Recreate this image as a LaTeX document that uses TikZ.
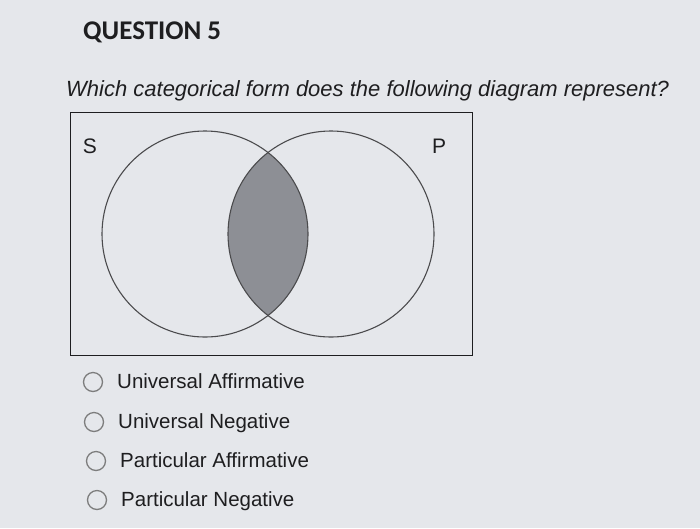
\documentclass[tikz,border=0pt]{standalone}
\usepackage{fontspec}
\setmainfont{Liberation Sans}
\newfontfamily\headfont{Carlito}
\usepackage{tikz}
\definecolor{ScreenBack}{RGB}{229,231,235}
\definecolor{LensGray}{RGB}{141,143,149}
\definecolor{RadioGray}{RGB}{125,125,125}
\definecolor{InkBlack}{RGB}{30,30,32}
\usetikzlibrary{
	positioning,
	calc
}

\begin{document}
\begin{tikzpicture}[
		x=1pt, y=-1pt,
		framed/.style={draw=InkBlack, line width=1.2pt, inner sep=0pt},
		setcircle/.style={circle, draw=InkBlack!80, line width=1.1pt, minimum size=206pt, inner sep=0pt},
		radio/.style={circle, draw=RadioGray, line width=1.3pt, minimum size=19pt, inner sep=0pt},
		answer/.style={anchor=base west, inner sep=0pt, text=InkBlack, font=\fontsize{20.5}{24}\selectfont}
	]
		\fill[ScreenBack] (0,0) rectangle (700,528);
		\useasboundingbox (0,0) rectangle (700,528);

		\node[anchor=base west, inner sep=0pt, text=InkBlack, font=\headfont\bfseries\fontsize{27}{32}\selectfont] (title) at (83,39) {QUESTION 5};
		\node[anchor=base west, inner sep=0pt, text=InkBlack, font=\itshape\fontsize{22}{26}\selectfont] (question) at (66,96) {Which categorical form does the following diagram represent?};

		\node[framed, minimum width=402pt, minimum height=243pt, anchor=north west] (frame) at (70,112) {};

		\coordinate (cS) at (205,234);
		\coordinate (cP) at (331,234);
		\begin{scope}
			\clip (cS) circle[radius=103pt];
			\fill[LensGray] (cP) circle[radius=103pt];
		\end{scope}
		\node[setcircle] (S) at (cS) {};
		\node[setcircle] (P) at (cP) {};

		\node[text=InkBlack, font=\fontsize{21}{24}\selectfont] (Slabel) at (90,146) {S};
		\node[text=InkBlack, font=\fontsize{21}{24}\selectfont] (Plabel) at (439,146) {P};

		\foreach \txt/\xx/\yy [count=\i] in {Universal Affirmative/117/388, Universal Negative/118/428, Particular Affirmative/120/467, Particular Negative/121/506}{
			\node[radio] (radio\i) at (\xx-24,\yy-6) {};
			\node[answer] (answer\i) at (\xx,\yy) {\txt};
		}

	\end{tikzpicture}
\end{document}
